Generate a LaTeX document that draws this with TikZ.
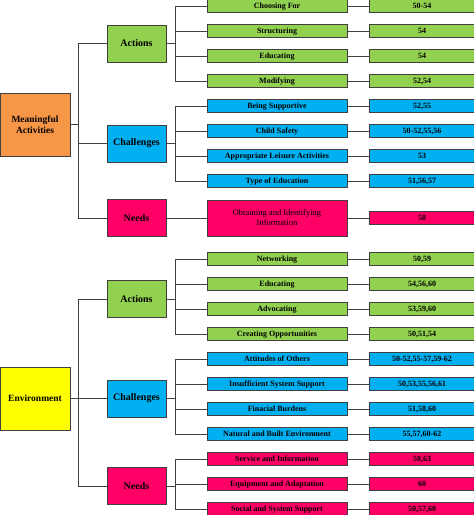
\documentclass[tikz,border=0pt]{standalone}
\usepackage{fontspec}
\setmainfont{Liberation Serif}
\definecolor{cgreen}{HTML}{92D050}
\definecolor{cblue}{HTML}{00B0F0}
\definecolor{cpink}{HTML}{FF0066}
\definecolor{corange}{HTML}{F79646}
\definecolor{cyellow}{HTML}{FFFF00}
\definecolor{cline}{HTML}{404040}
\tikzset{
  box/.style={draw=cline, line width=0.8pt, align=center, inner sep=0pt, font=\bfseries},
  rootbox/.style={box, minimum width=70pt, minimum height=63pt, font=\bfseries\fontsize{9.5}{11.5}\selectfont},
  midbox/.style={box, minimum width=59pt, minimum height=37pt, font=\bfseries\fontsize{10}{12}\selectfont},
  leafbox/.style={box, minimum width=140pt, minimum height=12.5pt, text height=6.2pt, text depth=0.8pt, font=\bfseries\fontsize{8}{9}\selectfont},
  numbox/.style={box, minimum width=106pt, minimum height=12.5pt, text height=6.2pt, text depth=0.8pt, font=\bfseries\fontsize{8}{9}\selectfont},
  conn/.style={draw=cline, line width=0.8pt},
}
\begin{document}
\begin{tikzpicture}[x=1pt,y=-1pt]
\useasboundingbox (0,0) rectangle (474,515);
% roots
\node[rootbox, fill=corange] (r1) at (35,124.5) {Meaningful\\Activities};
\node[rootbox, fill=cyellow] (r2) at (35,398.5) {Environment};
% level 2
\node[midbox, fill=cgreen] (a1) at (136.5,43.5) {Actions};
\node[midbox, fill=cblue] (c1) at (136.5,143.5) {Challenges};
\node[midbox, fill=cpink] (n1) at (136.5,218) {Needs};
\node[midbox, fill=cgreen] (a2) at (136.5,299) {Actions};
\node[midbox, fill=cblue] (c2) at (136.5,398.5) {Challenges};
\node[midbox, fill=cpink] (n2) at (136.5,486) {Needs};
% level 3 and 4
\foreach \n/\y/\col/\t/\v in {
  p1/6/cgreen/Choosing For/50-54,
  p2/31/cgreen/Structuring/54,
  p3/56/cgreen/Educating/54,
  p4/81/cgreen/Modifying/{52,54},
  p5/106/cblue/Being Supportive/{52,55},
  p6/131/cblue/Child Safety/{50-52,55,56},
  p7/156/cblue/Appropriate Leisure Activities/53,
  p8/181/cblue/Type of Education/{51,56,57},
  q1/259/cgreen/Networking/{50,59},
  q2/284/cgreen/Educating/{54,56,60},
  q3/309/cgreen/Advocating/{53,59,60},
  q4/334/cgreen/Creating Opportunities/{50,51,54},
  q5/359/cblue/Attitudes of Others/{50-52,55-57,59-62},
  q6/384/cblue/Insufficient System Support/{50,53,55,56,61},
  q7/409/cblue/Finacial Burdens/{51,58,60},
  q8/434/cblue/Natural and Built Environment/{55,57,60-62},
  q9/459/cpink/Service and Information/{58,63},
  q10/484/cpink/Equipment and Adaptation/60,
  q11/509/cpink/Social and System Support/{50,57,60}}{
  \node[leafbox, fill=\col] (\n) at (277,\y) {\t};
  \node[numbox, fill=\col] (\n v) at (422,\y) {\v};
  \draw[conn] (\n.east) -- (\n v.west);
}
\node[box, fill=cpink, minimum width=140pt, minimum height=36pt, font=\fontsize{8.5}{10}\selectfont] (ob) at (277,218) {Obtaining and Identifying\\Information};
\node[numbox, fill=cpink] (obv) at (422,218) {58};
\draw[conn] (ob.east) -- (obv.west);
% trunks
\draw[conn] (r1.east) -- ++(9,0);
\draw[conn] (a1.west) -- ++(-28,0) |- (n1.west);
\draw[conn] (c1.west) -- ++(-28,0);
\draw[conn] (r2.east) -- ++(9,0);
\draw[conn] (a2.west) -- ++(-28,0) |- (n2.west);
\draw[conn] (c2.west) -- ++(-28,0);
% level2 -> level3
\draw[conn] (a1.east) -- ++(10,0);
\draw[conn] (p1.west) -- ++(-31,0) |- (p4.west);
\draw[conn] (p2.west) -- ++(-31,0);
\draw[conn] (p3.west) -- ++(-31,0);
\draw[conn] (c1.east) -- ++(10,0);
\draw[conn] (p5.west) -- ++(-31,0) |- (p8.west);
\draw[conn] (p6.west) -- ++(-31,0);
\draw[conn] (p7.west) -- ++(-31,0);
\draw[conn] (n1.east) -- (ob.west);
\draw[conn] (a2.east) -- ++(10,0);
\draw[conn] (q1.west) -- ++(-31,0) |- (q4.west);
\draw[conn] (q2.west) -- ++(-31,0);
\draw[conn] (q3.west) -- ++(-31,0);
\draw[conn] (c2.east) -- ++(10,0);
\draw[conn] (q5.west) -- ++(-31,0) |- (q8.west);
\draw[conn] (q6.west) -- ++(-31,0);
\draw[conn] (q7.west) -- ++(-31,0);
\draw[conn] (n2.east) -- ++(10,0);
\draw[conn] (q9.west) -- ++(-31,0) |- (q11.west);
\draw[conn] (q10.west) -- ++(-31,0);
\end{tikzpicture}
\end{document}
